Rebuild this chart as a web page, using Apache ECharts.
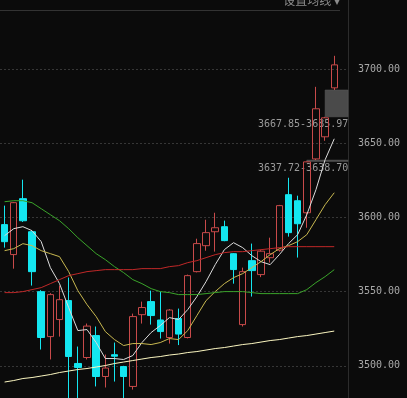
<!DOCTYPE html>
<html><head><meta charset="utf-8">
<script src="https://cdn.jsdelivr.net/npm/echarts@6/dist/echarts.min.js"></script>
<style>html,body{margin:0;padding:0;background:#0b0b0b;}#c{width:407px;height:398px;}</style>
</head><body><div id="c"></div>
<script>
const categories = ['K1','K2','K3','K4','K5','K6','K7','K8','K9','K10','K11','K12','K13','K14','K15','K16','K17','K18','K19','K20','K21','K22','K23','K24','K25','K26','K27','K28','K29','K30','K31','K32','K33','K34','K35','K36','K37','K38'];
const opens  = [3595.2,3575.0,3612.7,3590.4,3550.0,3519.7,3531.2,3544.0,3501.6,3505.6,3520.4,3492.8,3507.5,3499.5,3486.1,3534.5,3543.3,3530.9,3519.1,3531.9,3519.1,3563.5,3581.0,3590.4,3593.8,3575.6,3527.8,3570.9,3561.5,3572.9,3578.0,3615.4,3611.3,3603.2,3639.5,3654.4,3687.4];
const closes = [3583.7,3610.0,3597.8,3563.5,3519.1,3548.0,3544.6,3506.3,3498.9,3526.8,3492.8,3498.5,3506.5,3492.8,3533.2,3539.3,3533.9,3523.1,3537.6,3521.4,3560.8,3582.4,3589.8,3593.1,3584.4,3564.9,3563.5,3564.2,3577.3,3575.6,3608.0,3589.8,3595.8,3637.5,3673.3,3667.2,3702.9];
const lows   = [3579.7,3565.5,3597.0,3554.1,3511.0,3504.3,3519.7,3476.0,3478.0,3504.3,3486.1,3485.4,3489.4,3477.0,3484.0,3528.5,3527.8,3518.4,3515.0,3514.0,3518.5,3563.0,3577.6,3577.0,3584.0,3555.4,3526.5,3546.7,3559.8,3569.6,3577.0,3587.1,3573.0,3593.1,3638.70,3651.7,3685.97];
const highs  = [3608.0,3610.5,3625.5,3591.0,3551.0,3549.0,3554.1,3559.5,3513.0,3528.5,3526.5,3507.6,3515.7,3500.0,3535.2,3543.3,3550.7,3550.0,3538.3,3538.6,3561.5,3585.7,3598.5,3603.2,3597.9,3576.0,3566.2,3582.4,3578.0,3586.4,3608.5,3626.8,3614.7,3637.72,3688.1,3667.85,3709.0];
const ma5  = [3587.75,3592.46,3593.81,3591.11,3583.71,3566.20,3555.42,3539.26,3523.77,3524.45,3515.69,3504.92,3504.92,3504.25,3506.94,3515.69,3522.43,3527.14,3532.53,3531.18,3537.92,3546.67,3556.77,3568.22,3578.32,3583.03,3579.67,3574.28,3570.24,3568.22,3574.95,3582.36,3588.42,3601.89,3618.72,3638.93,3653.07];
const ma10 = [3577.65,3578.99,3582.36,3581.01,3577.65,3575.63,3573.61,3563.51,3550.71,3541.28,3533.20,3523.10,3517.71,3513.67,3515.02,3515.02,3514.35,3515.69,3518.39,3517.71,3523.77,3533.88,3543.98,3550.04,3555.42,3559.46,3562.16,3566.20,3570.24,3574.95,3578.99,3581.01,3583.71,3588.42,3598.52,3608.62,3616.70];
const ma20 = [3610.64,3611.32,3611.32,3609.97,3605.93,3601.89,3597.85,3592.46,3586.40,3581.01,3575.63,3571.59,3566.87,3562.83,3558.12,3555.42,3552.06,3550.04,3549.36,3548.02,3548.02,3548.02,3548.69,3549.36,3550.04,3550.04,3550.04,3549.36,3548.69,3548.69,3548.69,3548.69,3548.69,3551.38,3556.10,3560.14,3564.85];
const ma60 = [3549.36,3549.36,3550.04,3551.38,3552.73,3555.42,3558.12,3560.81,3562.16,3563.51,3564.18,3564.85,3564.85,3564.85,3564.85,3565.53,3565.53,3565.53,3566.87,3567.55,3569.57,3570.91,3572.93,3574.95,3576.30,3576.97,3576.97,3577.65,3578.32,3578.99,3579.67,3580.34,3580.34,3580.34,3580.34,3580.34,3580.34];
const ma250 = [3489.09,3490.10,3491.45,3492.12,3493.13,3494.14,3495.49,3496.50,3497.51,3498.19,3499.20,3500.21,3501.55,3502.56,3503.57,3504.58,3505.59,3506.27,3507.28,3507.95,3508.96,3509.63,3510.64,3511.65,3512.33,3513.34,3514.35,3515.02,3516.03,3517.04,3517.71,3518.72,3519.73,3520.41,3521.42,3522.43,3523.44];
const yTicks = [3500, 3550, 3600, 3650, 3700];
const gapStart = [33, 35];
const gapLow = [3637.72, 3667.85];
const gapHigh = [3638.70, 3685.97];
const headerText = '设置均线 ▾';

const BG = '#0b0b0b';
const kData = opens.map((o, i) => [o, closes[i], lows[i], highs[i]]);
const gapAreas = gapStart.map((s, k) => [
  { xAxis: categories[s], yAxis: gapLow[k], gapText: gapLow[k].toFixed(2) + '-' + gapHigh[k].toFixed(2) },
  { yAxis: gapHigh[k] }
]);
const maLine = (data, color) => ({
  type: 'line', data, symbol: 'none', silent: true, z: 5,
  lineStyle: { width: 1, color }, emphasis: { disabled: true }
});

const chart = echarts.init(document.getElementById('c'), null, { renderer: 'canvas' });
chart.setOption({
  backgroundColor: BG,
  animation: false,
  grid: { left: 0, right: 59, top: -5, height: 445, containLabel: false, outerBoundsMode: 'none' },
  xAxis: {
    type: 'category', data: categories, boundaryGap: true,
    axisLine: { show: false }, axisTick: { show: false }, axisLabel: { show: false }, splitLine: { show: false }
  },
  yAxis: {
    type: 'value', position: 'right', min: 3450, max: 3750, interval: 50, scale: true,
    axisLine: { show: true, lineStyle: { color: '#2c2c2c', width: 1 } },
    axisTick: { show: false },
    splitLine: { show: true, lineStyle: { color: '#363636', type: [2, 2], width: 1 } },
    axisLabel: {
      margin: 10, color: '#a8a8a8', fontSize: 10, fontFamily: 'DejaVu Sans Mono',
      formatter: v => yTicks.includes(v) ? v.toFixed(2) : ''
    }
  },
  graphic: [
    { type: 'line', shape: { x1: 0, y1: 10.5, x2: 340, y2: 10.5 }, style: { stroke: '#333333', lineWidth: 1 }, silent: true },
    { type: 'text', right: 67, top: -6, style: { text: headerText, fill: '#8c8c8c', font: '12px "Noto Sans CJK SC"' }, silent: true }
  ],
  series: [
    {
      type: 'candlestick', data: kData, barWidth: 7, z: 3,
      itemStyle: {
        color: 'rgba(0,0,0,0)', borderColor: '#c84a4a',
        color0: '#14e6f0', borderColor0: '#14e6f0', borderWidth: 1
      },
      markArea: {
        silent: true,
        itemStyle: { color: '#4a4a4a', borderColor: '#5a5a5a', borderWidth: 0.5 },
        label: {
          show: true, position: ['100%', '100%'], align: 'right', verticalAlign: 'top',
          offset: [0, 2], color: '#9a9a9a', fontSize: 10, fontFamily: 'DejaVu Sans Mono',
          formatter: p => p.data.gapText
        },
        data: gapAreas
      }
    },
    maLine(ma5, '#dcdcdc'),
    maLine(ma10, '#c8b850'),
    maLine(ma20, '#3aa42a'),
    maLine(ma60, '#c02828'),
    maLine(ma250, '#fbf6c0')
  ]
});
</script></body></html>
